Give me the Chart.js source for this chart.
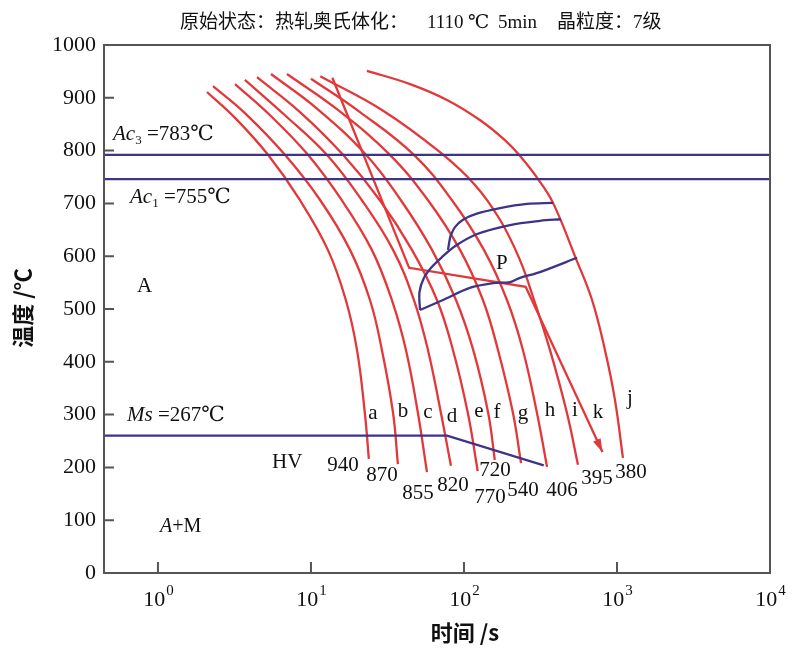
<!DOCTYPE html>
<html>
<head>
<meta charset="utf-8">
<script src="https://cdn.jsdelivr.net/npm/chart.js"></script>
<style>
  body { margin: 0; background: #fff; }
  canvas { display: block; }
</style>
</head>
<body>
<canvas id="cct" width="802" height="652"></canvas>
<script>
"use strict";
// CCT diagram: cooling curves a..k, critical temperatures and pearlite region

// cooling curves (time s, temperature °C)
const timeA = [2.09, 3.19, 5.24, 8.48, 12.9, 16.9, 20.0, 22.5, 23.9];
const tempA = [911, 862, 792, 706, 612, 517, 422, 303, 216];
const timeB = [2.29, 3.70, 6.76, 11.5, 18.0, 24.3, 29.1, 34.4, 37.0];
const tempB = [922, 871, 792, 706, 612, 517, 422, 303, 206];
const timeC = [3.19, 5.40, 9.56, 15.9, 25.0, 33.8, 41.8, 50.0, 57.3];
const tempC = [926, 867, 792, 706, 612, 517, 422, 303, 191];
const timeD = [3.70, 6.76, 12.7, 21.5, 34.4, 47.1, 58.2, 70.7, 82.2];
const tempD = [934, 867, 792, 706, 612, 517, 422, 303, 203];
const timeE = [4.44, 8.48, 16.2, 28.2, 45.7, 66.6, 84.8, 106, 123];
const tempE = [939, 873, 792, 706, 612, 517, 422, 303, 193];
const timeF = [5.48, 10.8, 22.9, 38.7, 61.8, 88.7, 115, 144, 159];
const tempF = [945, 881, 792, 706, 612, 517, 422, 303, 214];
const timeG = [6.97, 15.0, 32.8, 58.2, 94.2, 133, 167, 209, 236];
const tempG = [945, 877, 792, 706, 612, 517, 422, 303, 208];
const timeH = [10.0, 20.9, 47.1, 83.5, 135, 191, 243, 300, 349];
const tempH = [936, 873, 792, 706, 612, 517, 422, 303, 201];
const timeI = [11.5, 29.1, 69.7, 118, 172, 232, 287, 365, 471, 556];
const tempI = [941, 877, 797, 735, 669, 593, 517, 422, 303, 205];
const timeJ = [23.2, 44.4, 77.4, 127, 185, 229, 305, 382, 540, 687, 835, 970, 1094];
const tempJ = [951, 926, 896, 858, 820, 792, 746, 701, 595, 517, 422, 328, 218];
const timeK = [13.8, 43.8, 253, 804];
const tempK = [938, 578, 542, 229];

// critical temperatures (as drawn)
const ac3Temp = 792;
const ac1Temp = 746;
const msTemp = 260;
const timeRange = [0.444, 10000];

// hardness boundary (Ms line bending down)
const timeHV = [0.444, 77.5, 332];
const tempHV = [msTemp, msTemp, 204];

// pearlite region boundaries
const timePs = [78.6, 81.0, 82.2, 87.3, 98.5, 120, 172, 258, 382];
const tempPs = [612, 634, 640, 655, 669, 680, 691, 699, 701];
const timePm = [51.6, 51.2, 54.8, 61.8, 72.9, 87.3, 122, 200, 314, 430];
const tempPm = [498, 532, 559, 580, 600, 619, 642, 659, 667, 670];
const timePf = [51.6, 72.9, 109, 155, 200, 232, 314, 548];
const tempPf = [498, 517, 540, 549, 551, 559, 570, 597];

// labels
const curveNames = ['a', 'b', 'c', 'd', 'e', 'f', 'g', 'h', 'i', 'k', 'j'];
const hardness = ['940', '870', '855', '820', '720', '770', '540', '406', '395', '380'];
const xTickValues = [1, 10, 100, 1000, 10000];
const xTickPowers = ['0', '1', '2', '3', '4'];

const RED = '#e2383a';
const BLUE = '#3d3488';
const SERIF = '"Liberation Serif", "DejaVu Serif", serif';
const CJK = '"Noto Sans CJK SC", sans-serif';

function pts(ts, Ts) {
  return ts.map((t, i) => ({ x: t, y: Ts[i] }));
}

function line(ts, Ts, color, tension) {
  return {
    data: pts(ts, Ts),
    showLine: true,
    borderColor: color,
    borderWidth: 2.3,
    pointRadius: 0,
    tension: tension,
    fill: false
  };
}

const datasets = [
  line(timeRange, [ac3Temp, ac3Temp], BLUE, 0),
  line(timeRange, [ac1Temp, ac1Temp], BLUE, 0),
  line(timeHV, tempHV, BLUE, 0),
  line(timePs, tempPs, BLUE, 0.35),
  line(timePm, tempPm, BLUE, 0.35),
  line(timePf, tempPf, BLUE, 0.3),
  line(timeA, tempA, RED, 0.4),
  line(timeB, tempB, RED, 0.4),
  line(timeC, tempC, RED, 0.4),
  line(timeD, tempD, RED, 0.4),
  line(timeE, tempE, RED, 0.4),
  line(timeF, tempF, RED, 0.4),
  line(timeG, tempG, RED, 0.4),
  line(timeH, tempH, RED, 0.4),
  line(timeI, tempI, RED, 0.4),
  line(timeJ, tempJ, RED, 0.4),
  line(timeK, tempK, RED, 0)
];

// text pieces: [text, italic, subscript]
function richText(ctx, parts, x, y, size) {
  let cx = x;
  parts.forEach(p => {
    const sz = p[2] ? size * 0.62 : size;
    ctx.font = (p[1] ? 'italic ' : '') + sz + 'px ' + SERIF;
    ctx.fillText(p[0], cx, p[2] ? y + size * 0.18 : y);
    cx += ctx.measureText(p[0]).width;
  });
}

const decorations = {
  id: 'decorations',
  afterDatasetsDraw(chart) {
    const { ctx, chartArea: ca, scales: { x, y } } = chart;
    ctx.save();

    // arrow head on curve k
    const n = timeK.length;
    const x1 = x.getPixelForValue(timeK[n - 2]), y1 = y.getPixelForValue(tempK[n - 2]);
    const x2 = x.getPixelForValue(timeK[n - 1]), y2 = y.getPixelForValue(tempK[n - 1]);
    const ang = Math.atan2(y2 - y1, x2 - x1);
    ctx.fillStyle = RED;
    ctx.beginPath();
    ctx.moveTo(x2, y2);
    ctx.lineTo(x2 - 14 * Math.cos(ang - 0.3), y2 - 14 * Math.sin(ang - 0.3));
    ctx.lineTo(x2 - 14 * Math.cos(ang + 0.3), y2 - 14 * Math.sin(ang + 0.3));
    ctx.closePath();
    ctx.fill();

    // frame and inner ticks
    ctx.strokeStyle = '#555';
    ctx.lineWidth = 2;
    ctx.strokeRect(ca.left, ca.top, ca.right - ca.left, ca.bottom - ca.top);
    ctx.beginPath();
    for (let v = 100; v < 1000; v += 100) {
      const py = y.getPixelForValue(v);
      ctx.moveTo(ca.left, py);
      ctx.lineTo(ca.left + 10, py);
    }
    xTickValues.slice(0, 4).forEach(v => {
      const px = x.getPixelForValue(v);
      ctx.moveTo(px, ca.bottom);
      ctx.lineTo(px, ca.bottom - 11);
    });
    ctx.stroke();

    ctx.fillStyle = '#111';
    ctx.textBaseline = 'alphabetic';

    // x tick labels with superscript powers
    ctx.textAlign = 'left';
    xTickValues.forEach((v, i) => {
      const px = x.getPixelForValue(v);
      ctx.font = '22px ' + SERIF;
      const w1 = ctx.measureText('10').width;
      ctx.font = '15px ' + SERIF;
      const w2 = ctx.measureText(xTickPowers[i]).width;
      const x0 = px - (w1 + w2) / 2;
      ctx.font = '22px ' + SERIF;
      ctx.fillText('10', x0, 606);
      ctx.font = '15px ' + SERIF;
      ctx.fillText(xTickPowers[i], x0 + w1 + 1, 595);
    });

    // title in pieces
    ctx.font = '19px ' + SERIF + ', ' + CJK;
    ctx.fillText('原始状态：热轧奥氏体化：', 180, 28);
    ctx.fillText('1110', 427, 28);
    ctx.fillText('\u2103', 468, 28);
    ctx.fillText('5min', 498, 28);
    ctx.fillText('晶粒度：7级', 557, 28);

    // axis titles
    ctx.textAlign = 'center';
    ctx.font = 'bold 22px ' + CJK;
    ctx.fillText('时间 /s', 465, 641);
    ctx.save();
    ctx.translate(31, 308);
    ctx.rotate(-Math.PI / 2);
    ctx.fillText('温度 /\u2103', 0, 0);
    ctx.restore();

    // region and temperature labels
    ctx.textAlign = 'left';
    richText(ctx, [['Ac', true], ['3', false, true], [' =783\u2103', false]], 113, 140, 21);
    richText(ctx, [['Ac', true], ['1', false, true], [' =755\u2103', false]], 130, 203, 21);
    richText(ctx, [['Ms', true], [' =267\u2103', false]], 127, 421, 21);
    richText(ctx, [['A', true], ['+M', false]], 160, 532, 20);
    ctx.font = '21px ' + SERIF;
    ctx.fillText('A', 137, 292);
    ctx.fillText('P', 496, 269);
    ctx.fillText('HV', 272, 468);

    // curve letters and hardness values
    const letterPos = [[373, 419], [403, 417], [428, 418], [452, 422], [479, 417], [497, 418],
      [523, 419], [550, 416], [575, 416], [598, 418], [630, 404]];
    ctx.textAlign = 'center';
    ctx.font = '21px ' + SERIF;
    curveNames.forEach((s, i) => ctx.fillText(s, letterPos[i][0], letterPos[i][1]));
    const hvPos = [[343, 471], [382, 481], [418, 499], [453, 491], [495, 476], [490, 503],
      [523, 496], [562, 496], [597, 484], [631, 478]];
    hardness.forEach((s, i) => ctx.fillText(s, hvPos[i][0], hvPos[i][1]));
    ctx.restore();
  }
};

new Chart(document.getElementById('cct'), {
  type: 'scatter',
  data: { datasets: datasets },
  options: {
    responsive: false,
    animation: false,
    layout: { padding: { left: 0, right: 32, top: 45, bottom: 0 } },
    plugins: { legend: { display: false }, tooltip: { enabled: false } },
    scales: {
      x: {
        type: 'logarithmic',
        min: timeRange[0],
        max: timeRange[1],
        afterBuildTicks: s => { s.ticks = xTickValues.map(v => ({ value: v })); },
        afterFit: s => { s.height = 79; },
        grid: { display: false, drawTicks: false },
        border: { display: false },
        ticks: { callback: () => '' }
      },
      y: {
        min: 0,
        max: 1000,
        afterFit: s => { s.width = 104; },
        grid: { display: false, drawTicks: false },
        border: { display: false },
        ticks: {
          stepSize: 100,
          padding: 8,
          color: '#111',
          font: { family: SERIF, size: 22 },
          callback: v => String(v)
        }
      }
    }
  },
  plugins: [decorations]
});
</script>
</body>
</html>
